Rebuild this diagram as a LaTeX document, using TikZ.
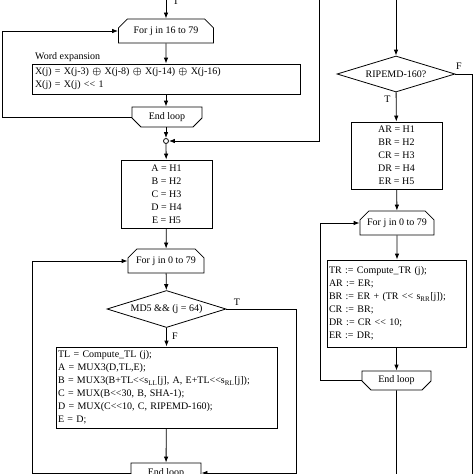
\documentclass[tikz,border=0pt]{standalone}
\usepackage{amsmath}
\usepackage{fontspec}
\setmainfont{Liberation Serif}
\usetikzlibrary{arrows.meta,shapes.geometric,shapes.misc}
\newcommand{\shiftl}{<\kern0pt<}
\newcommand{\xorop}{$\boldsymbol{\oplus}$}

\begin{document}
\begin{tikzpicture}[x=1pt,y=-1pt,
  every node/.style={font=\fontsize{10}{13}\selectfont},
  stepbox/.style={draw,line width=0.8pt,inner sep=2pt},
  loophead/.style={stepbox,chamfered rectangle,chamfered rectangle corners={north west,north east},chamfered rectangle sep=4.5pt,inner sep=0pt},
  looptail/.style={stepbox,chamfered rectangle,chamfered rectangle corners={south west,south east},chamfered rectangle sep=4.5pt,inner sep=0pt},
  decision/.style={stepbox,diamond,aspect=3,inner sep=1pt},
  link/.style={line width=0.8pt,-{Latex[length=6pt,width=4.5pt]}},
  wire/.style={line width=0.8pt}]
\path[use as bounding box,fill=white] (0,0) rectangle (474,474);
% left column
\coordinate (ltop) at (166,-2);
\node () at (176,1) {T};
\node [loophead,minimum width=95pt,minimum height=24pt] (for16) at (166,31) {For j in 16 to 79};
\node [anchor=west,inner sep=0pt] (wordlbl) at (35,57) {Word expansion};
\node [stepbox,text width=262pt,align=left,inner sep=3pt,minimum height=30pt] (wordbox) at (166,79)
  {X(j) = X(j-3) \xorop{} X(j-8) \xorop{} X(j-14) \xorop{} X(j-16)\\X(j) = X(j) \shiftl{} 1};
\node [looptail,minimum width=70pt,minimum height=20pt] (end16) at (167,117) {End loop};
\node [circle,draw,line width=0.8pt,fill=white,inner sep=0pt,minimum size=5pt] (join) at (166,141) {};
\node [stepbox,align=center,minimum width=91pt,minimum height=68pt] (initL) at (166.5,194)
  {A = H1\\B = H2\\C = H3\\D = H4\\E = H5};
\node [loophead,minimum width=76pt,minimum height=24pt] (forL) at (166,261) {For j in 0 to 79};
\node [decision,minimum width=119pt,minimum height=37pt] (md5) at (166.5,309) {MD5 \&\& (j = 64)};
\node [stepbox,text width=217pt,align=left,minimum height=81pt] (tlbox) at (166.5,387.5)
  {TL = Compute\_TL (j);\\A = MUX3(D,TL,E);\\B = MUX3(B+TL\shiftl s\textsubscript{LL}[j], A, E+TL\shiftl s\textsubscript{RL}[j]);\\C = MUX(B\shiftl 30, B, SHA-1);\\D = MUX(C\shiftl 10, C, RIPEMD-160);\\E = D;};
\node [looptail,minimum width=70pt,minimum height=20pt] (endL) at (166,473) {End loop};
% right column
\coordinate (rtop) at (396,-2);
\node [decision,minimum width=118pt,minimum height=36pt] (ripemd) at (396,74) {RIPEMD-160?};
\node [stepbox,align=center,minimum width=91pt,minimum height=67pt] (initR) at (396.5,155.5)
  {AR = H1\\BR = H2\\CR = H3\\DR = H4\\ER = H5};
\node [loophead,minimum width=74pt,minimum height=24pt] (forR) at (397,223) {For j in 0 to 79};
\node [stepbox,text width=135pt,align=left,minimum height=87pt] (trbox) at (396.5,303.5)
  {TR := Compute\_TR (j);\\AR := ER;\\BR := ER + (TR \shiftl{} s\textsubscript{RR}[j]);\\CR := BR;\\DR := CR \shiftl{} 10;\\ER := DR;};
\node [looptail,minimum width=69pt,minimum height=19pt] (endR) at (396.5,380.5) {End loop};
\coordinate (rbot) at (396.5,478);
% connectors
\draw [link] (ltop) -- (for16);
\draw [link] (for16) -- (wordbox);
\draw [link] (wordbox) -- (end16.north -| wordbox);
\draw [link] (end16.south -| join) -- (join);
\draw [link] (join) -- (initL);
\draw [link] (initL) -- (forL);
\draw [link] (forL) -- (md5);
\draw [link] (md5) -- node [right=2pt,pos=0.45] (fL) {F} (tlbox);
\draw [link] (tlbox) -- (endL);
\coordinate (wordloop) at (2,117);
\draw [link] (end16.west) -- (wordloop) |- (for16.west);
\coordinate (mainloop) at (32,473);
\draw [link] (endL.west) -- (mainloop) |- (forL.west);
\coordinate (tskip) at (296,309);
\draw [link] (md5.east) -- node [above,pos=0.15] (tL) {T} (tskip) |- (endL.east);
\coordinate (rjoin) at (319,-2);
\draw [link] (rjoin) |- (join.east);
\draw [link] (rtop) -- (ripemd);
\draw [link] (ripemd) -- node [left=2pt,pos=0.25] (tR) {T} (initR);
\draw [link] (initR) -- (forR);
\draw [link] (forR) -- (trbox.north -| forR);
\draw [link] (trbox.south -| endR) -- (endR);
\draw [wire] (endR) -- (rbot);
\coordinate (rloop) at (320,380.5);
\draw [link] (endR.west) -- (rloop) |- (forR.west);
\coordinate (fskip) at (472,74);
\coordinate (fbot) at (472,478);
\draw [wire] (ripemd.east) -- (fskip) -- (fbot);
\node () at (459,66) {F};
\end{tikzpicture}
\end{document}
